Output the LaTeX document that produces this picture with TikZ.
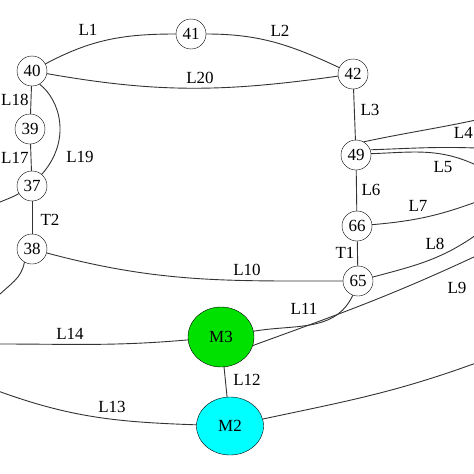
\documentclass[tikz,border=0pt]{standalone}
\usepackage{fontspec}
\setmainfont{Liberation Serif}
\usetikzlibrary{shapes.geometric}
\definecolor{genGreen}{RGB}{0,225,0}
\definecolor{genCyan}{RGB}{0,255,255}

\begin{document}
\begin{tikzpicture}[x=1pt,y=1pt,
  bus/.style={draw,circle,minimum size=30pt,inner sep=0pt,fill=white},
  gen/.style={draw,ellipse,inner sep=0pt},
  line/.style={draw=black!80,line width=0.9pt},
  lbl/.style={inner sep=0pt},
  every node/.append style={font=\fontsize{17}{20}\selectfont}]
\useasboundingbox (0,0) rectangle (474,-474);
% buses
\node[bus] (b41) at (191,-34) {41};
\node[bus] (b40) at (32,-71) {40};
\node[bus] (b39) at (30,-129) {39};
\node[bus] (b37) at (32,-186) {37};
\node[bus] (b38) at (32,-249) {38};
\node[bus] (b42) at (353,-74) {42};
\node[bus] (b49) at (356,-155) {49};
\node[bus] (b66) at (357,-226) {66};
\node[bus] (b65) at (358,-281) {65};
\node[gen,fill=genGreen,minimum width=66pt,minimum height=60pt] (m3) at (221,-337) {M3};
\node[gen,fill=genCyan,minimum width=67pt,minimum height=58pt] (m2) at (230,-426) {M2};
% free ends at the borders
\coordinate (w1) at (-2,-203);
\coordinate (w2) at (-2,-296);
\coordinate (w3) at (-2,-344);
\coordinate (w4) at (-2,-391);
\coordinate (e1) at (476,-120);
\coordinate (e2) at (476,-148);
\coordinate (e3) at (476,-165);
\coordinate (e4) at (476,-202);
\coordinate (e5) at (476,-235);
\coordinate (e6) at (476,-256);
\coordinate (e7) at (476,-363);
% lines
\draw[line] (b40) to[out=28,in=180] (b41);
\draw[line] (b41) to[out=0,in=155] (b42);
\draw[line] (b40) to[out=-10,in=188] (b42);
\draw[line] (b40) -- (b39);
\draw[line] (b39) -- (b37);
\draw[line] (b40.-60) .. controls (60,-100) and (72,-140) .. (b37.50);
\draw[line] (b37.210) to[out=210,in=25] (w1);
\draw[line] (b37) -- (b38);
\draw[line] (b38.240) to[out=-100,in=45] (w2);
\draw[line] (b38) to[out=-15,in=180] (b65);
\draw[line] (b42) -- (b49);
\draw[line] (b49.60) to[out=12,in=192] (e1);
\draw[line] (b49.20) to[out=2,in=178] (e2);
\draw[line] (b49.5) to[out=2,in=155] (e3);
\draw[line] (b49) -- (b66);
\draw[line] (b66) to[out=5,in=200] (e4);
\draw[line] (b66) -- (b65);
\draw[line] (b65) to[out=15,in=215] (e5);
\draw[line] (b65.250) to[out=-115,in=10] (m3);
\draw[line] (m3.-15) to[out=20,in=205] (e6);
\draw[line] (m3) -- (m2);
\draw[line] (m3) to[out=185,in=0] (w3);
\draw[line] (m2) to[out=178,in=-20] (w4);
\draw[line] (m2) to[out=12,in=200] (e7);
% labels
\node[lbl] (tL1) at (88,-30) {L1};
\node[lbl] (tL2) at (280,-31) {L2};
\node[lbl] (tL20) at (200,-78) {L20};
\node[lbl,anchor=west] (tL18) at (1,-100) {L18};
\node[lbl,anchor=west] (tL17) at (1,-158) {L17};
\node[lbl] (tL19) at (80,-157) {L19};
\node[lbl] (tT2) at (50,-220) {T2};
\node[lbl] (tL10) at (247,-270) {L10};
\node[lbl] (tL3) at (370,-110) {L3};
\node[lbl,anchor=east] (tL4) at (473,-133) {L4};
\node[lbl] (tL5) at (443,-167) {L5};
\node[lbl] (tL6) at (371,-190) {L6};
\node[lbl] (tL7) at (418,-206) {L7};
\node[lbl] (tT1) at (345,-253) {T1};
\node[lbl] (tL8) at (435,-244) {L8};
\node[lbl] (tL9) at (457,-288) {L9};
\node[lbl] (tL11) at (304,-309) {L11};
\node[lbl] (tL12) at (247,-380) {L12};
\node[lbl] (tL13) at (112,-407) {L13};
\node[lbl] (tL14) at (70,-334) {L14};
\end{tikzpicture}
\end{document}
